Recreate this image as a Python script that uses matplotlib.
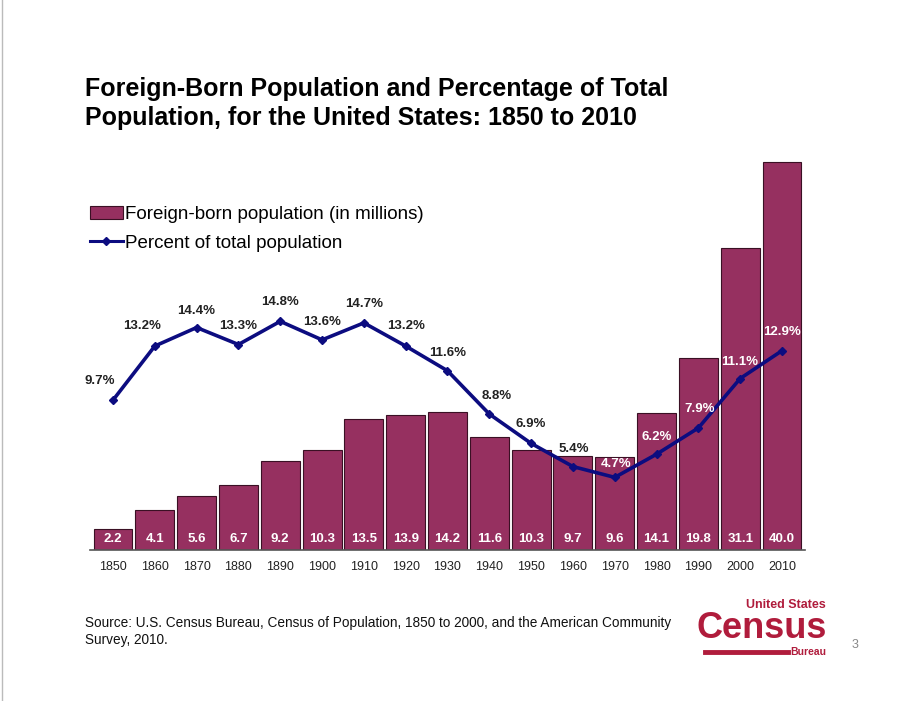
import matplotlib
matplotlib.use("Agg")
import matplotlib.pyplot as plt
from matplotlib.lines import Line2D
from matplotlib.patches import Patch

plt.rcParams['font.family'] = ['Liberation Sans', 'DejaVu Sans']

# data
years = ['1850', '1860', '1870', '1880', '1890', '1900', '1910', '1920', '1930',
         '1940', '1950', '1960', '1970', '1980', '1990', '2000', '2010']
foreign_born = [2.2, 4.1, 5.6, 6.7, 9.2, 10.3, 13.5, 13.9, 14.2,
                11.6, 10.3, 9.7, 9.6, 14.1, 19.8, 31.1, 40.0]
percent = [9.7, 13.2, 14.4, 13.3, 14.8, 13.6, 14.7, 13.2, 11.6,
           8.8, 6.9, 5.4, 4.7, 6.2, 7.9, 11.1, 12.9]

bar_color = '#963060'
line_color = '#0c0c80'

W, H = 907, 701
fig = plt.figure(figsize=(W / 100, H / 100), dpi=100)

# axes placed in pixel coords
left, right, top, bottom = 90, 805, 150, 550
ax = fig.add_axes([left / W, (H - bottom) / H, (right - left) / W, (bottom - top) / H])
x = list(range(len(years)))

ax.bar(x, foreign_born, width=0.93, color=bar_color, edgecolor='#3a1024', linewidth=0.8)
ax.set_xlim(-0.55, len(years) - 0.45)
ax.set_ylim(0, (bottom - top) / 9.7)
ax.set_xticks(x)
ax.set_xticklabels(years, fontsize=9, color='#222222')
ax.tick_params(axis='x', length=0, pad=8)
ax.set_yticks([])
for s in ['top', 'right', 'left']:
    ax.spines[s].set_visible(False)
ax.spines['bottom'].set_color('#555555')
ax.spines['bottom'].set_linewidth(1.2)

for xi, v in zip(x, foreign_born):
    ax.annotate(f'{v:.1f}', (xi, 0), xytext=(0, 8), textcoords='offset points',
                ha='center', va='center', color='white', fontsize=9.5, fontweight='bold')

# percent line on second axis
ax2 = ax.twinx()
ax2.set_ylim(0, (bottom - top) / 15.45)
ax2.set_yticks([])
for s in ax2.spines.values():
    s.set_visible(False)
ax2.plot(x, percent, color=line_color, lw=2.6, marker='D', markersize=4.5)

# label offsets in pixels (dx, dy)
offs = [(-13, 19), (-13, 20), (0, 17), (0, 19), (0, 19), (0, 18), (0, 19), (0, 20),
        (0, 18), (7, 18), (0, 19), (1, 18), (1, 13), (0, 17), (1, 19), (-1, 17), (0, 19)]
for xi, p, (dx, dy) in zip(x, percent, offs):
    col = 'white' if xi >= 12 else '#222222'
    ax2.annotate(f'{p}%', (xi, p), xytext=(dx * 0.72, dy * 0.72), textcoords='offset points',
                 ha='center', va='center', color=col, fontsize=9.5, fontweight='bold')

# legend
handles = [Patch(facecolor=bar_color, edgecolor='#3a1024', linewidth=0.8),
           Line2D([0], [0], color=line_color, lw=2.2, marker='D', markersize=4)]
fig.legend(handles, ['Foreign-born population (in millions)', 'Percent of total population'],
           loc='upper left', bbox_to_anchor=(90 / W, 1 - 206 / H), frameon=False,
           fontsize=13.5, handlelength=1.75, handletextpad=0.1, labelspacing=0.6,
           borderaxespad=0, borderpad=0)

# title
fig.text(85 / W, 1 - 77 / H, 'Foreign-Born Population and Percentage of Total\n'
         'Population, for the United States: 1850 to 2010',
         fontsize=18, fontweight='bold', va='top', ha='left', linespacing=1.25)

# source
fig.text(85 / W, 1 - 616 / H, 'Source: U.S. Census Bureau, Census of Population, 1850 to 2000, '
         'and the American Community\nSurvey, 2010.',
         fontsize=9.8, va='top', ha='left', linespacing=1.25, color='#111111')

# logo
logo = '#b01c3c'
fig.text(826 / W, 1 - 605 / H, 'United States', fontsize=9, fontweight='bold',
         color=logo, ha='right', va='center')
fig.text(827 / W, 1 - 629 / H, 'Census', fontsize=26, fontweight='bold',
         color=logo, ha='right', va='center')
fig.add_artist(Line2D([705 / W, 788 / W], [1 - 652 / H, 1 - 652 / H], color=logo, lw=3.5))
fig.text(826 / W, 1 - 652 / H, 'Bureau', fontsize=7.5, fontweight='bold',
         color=logo, ha='right', va='center')
fig.text(855 / W, 1 - 645 / H, '3', fontsize=9, color='#888888', ha='center', va='center')

# slide border at left edge
fig.add_artist(Line2D([1.5 / W, 1.5 / W], [0, 1], color='#bbbbbb', lw=1))

fig.savefig('out.png', dpi=100)
